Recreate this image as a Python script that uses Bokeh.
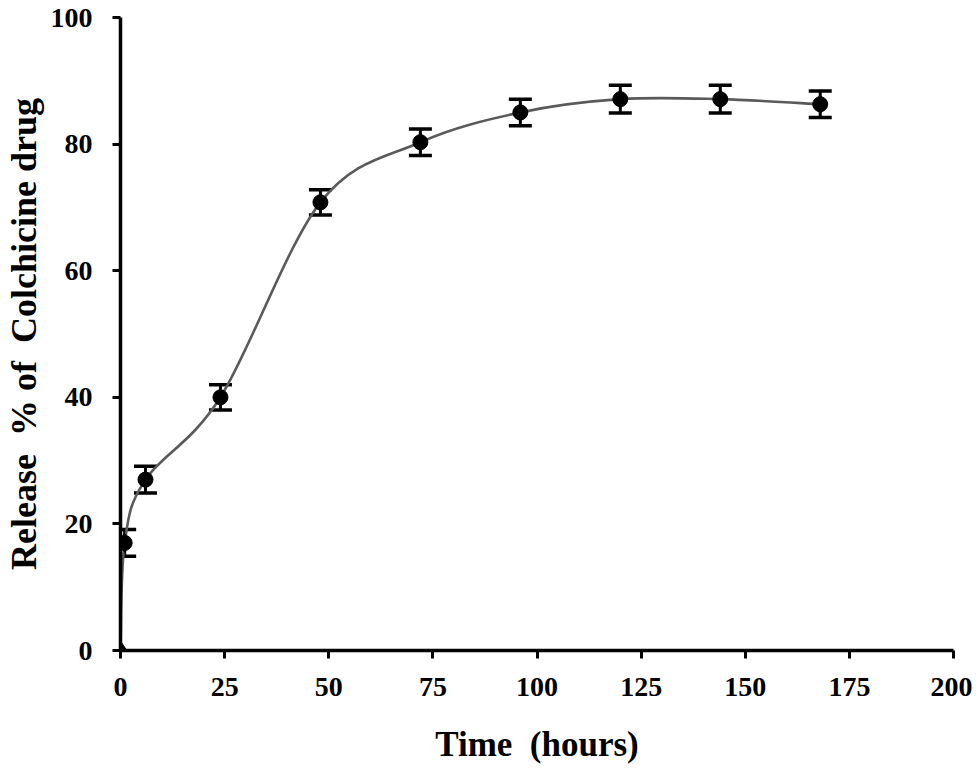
import numpy as np
from bokeh.plotting import figure
from bokeh.models import ColumnDataSource, Whisker, TeeHead, FixedTicker, Range1d
from bokeh.embed import file_html
from bokeh.resources import INLINE

# data
time_h = [0, 1, 6, 24, 48, 72, 96, 120, 144, 168]
release = [0, 17.0, 27.0, 40.0, 70.8, 80.3, 85.0, 87.1, 87.1, 86.3]
err = [0, 2.1, 2.1, 2.0, 2.0, 2.1, 2.1, 2.2, 2.2, 2.1]
x_ticks = [0, 25, 50, 75, 100, 125, 150, 175, 200]
y_ticks = [0, 20, 40, 60, 80, 100]

FONT = "Liberation Serif"
NB = "\u00a0"

p = figure(width=972, height=768, output_backend="svg", toolbar_location=None,
           x_range=Range1d(0, 200), y_range=Range1d(0, 100),
           min_border_left=119, min_border_right=19, min_border_top=17, min_border_bottom=118)
p.outline_line_color = None
p.xgrid.visible = False
p.ygrid.visible = False
p.background_fill_color = "white"

# smooth (Excel-style Catmull-Rom Bezier) curve through the points
x = np.array(time_h, dtype=float)
y = np.array(release, dtype=float)
n = len(x)
xp = np.concatenate([[x[0]], x, [x[-1]]])
yp = np.concatenate([[y[0]], y, [y[-1]]])
x0 = x[:-1]; y0 = y[:-1]; x1 = x[1:]; y1 = y[1:]
cx0 = x0 + (xp[2:n+1] - xp[0:n-1]) / 6.0
cy0 = y0 + (yp[2:n+1] - yp[0:n-1]) / 6.0
cx1 = x1 - (xp[3:n+2] - xp[1:n]) / 6.0
cy1 = y1 - (yp[3:n+2] - yp[1:n]) / 6.0
p.bezier(x0=x0, y0=y0, x1=x1, y1=y1, cx0=cx0, cy0=cy0, cx1=cx1, cy1=cy1,
         line_color="#5a5a5a", line_width=2.6)

src = ColumnDataSource(dict(x=time_h[1:], y=release[1:],
                            lo=[a - b for a, b in zip(release[1:], err[1:])],
                            hi=[a + b for a, b in zip(release[1:], err[1:])]))
w = Whisker(source=src, base="x", upper="hi", lower="lo", dimension="height",
            line_color="black", line_width=3,
            upper_head=TeeHead(size=23, line_color="black", line_width=3.5),
            lower_head=TeeHead(size=23, line_color="black", line_width=3.5))
p.add_layout(w)

p.scatter(time_h[1:], release[1:], marker="circle", size=15, color="black")
p.scatter(time_h, release, marker="diamond", size=19, color="black")

for ax in (p.xaxis[0], p.yaxis[0]):
    ax.axis_line_width = 3.5
    ax.axis_line_color = "black"
    ax.major_tick_line_width = 3
    ax.major_tick_line_color = "black"
    ax.major_tick_out = 8
    ax.major_tick_in = 0
    ax.minor_tick_out = 0
    ax.minor_tick_in = 0
    ax.major_label_text_font = FONT
    ax.major_label_text_font_style = "bold"
    ax.major_label_text_font_size = "28px"
    ax.major_label_text_color = "black"
    ax.axis_label_text_font = FONT
    ax.axis_label_text_font_style = "bold"
    ax.axis_label_text_color = "black"

p.xaxis.axis_label_text_font_size = "35px"
p.yaxis.axis_label_text_font_size = "36px"
p.xaxis.ticker = FixedTicker(ticks=x_ticks)
p.yaxis.ticker = FixedTicker(ticks=y_ticks)
p.xaxis.axis_label = "Time" + NB + NB + "(hours)"
p.yaxis.axis_label = "Release" + NB + NB + "%" + NB + "of" + NB + NB + "Colchicine" + NB + "drug"
p.xaxis.major_label_standoff = 19
p.yaxis.major_label_standoff = 20
p.xaxis.axis_label_standoff = 26
p.yaxis.axis_label_standoff = 4

open("out.html", "w").write(file_html(p, INLINE))
